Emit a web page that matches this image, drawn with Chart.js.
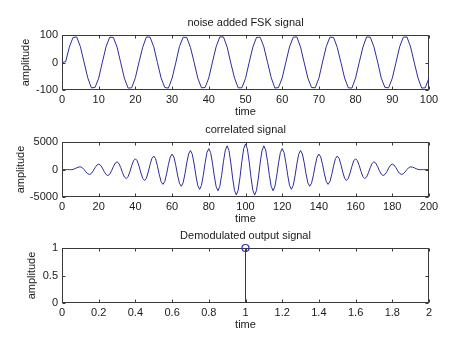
<!DOCTYPE html>
<html><head><meta charset="utf-8">
<script src="https://cdn.jsdelivr.net/npm/chart.js@4.4.0/dist/chart.umd.min.js"></script>
<style>
html,body{margin:0;padding:0;background:#fff;width:474px;height:355px;overflow:hidden}
.c{position:absolute;left:0;width:474px;height:120px}
</style></head><body>
<div class="c" style="top:0px"><canvas id="c1" width="474" height="120"></canvas></div>
<div class="c" style="top:107px"><canvas id="c2" width="474" height="120"></canvas></div>
<div class="c" style="top:213px"><canvas id="c3" width="474" height="120"></canvas></div>
<script>
// ---- data ----
const fskSignal = [
  0, 3, 56, 91, 93, 58, 2, -55, -92, -91, -57,
  1, 57, 92, 91, 56, -1, -57, -93, -92, -55,
  2, 56, 93, 92, 57, 0, -56, -91, -93, -57,
  -1, 58, 92, 91, 55, 1, -57, -92, -91, -56,
  2, 57, 93, 93, 56, -2, -56, -92, -92, -58,
  0, 56, 91, 92, 57, 1, -55, -93, -91, -56,
  1, 57, 92, 93, 56, -1, -57, -91, -92, -57,
  2, 58, 92, 91, 55, 0, -56, -92, -93, -56,
  1, 56, 93, 92, 57, 2, -57, -91, -92, -57,
  0, 57, 92, 93, 56, -1, -56, -93, -92, -56
];
const correlated = [
  0, -3, -10, -20, -27,
  -30, 19, 146, 304, 431,
  480, 348, 3, -423, -768,
  -900, -721, -250, 330, 800,
  980, 781, 261, -381, -901,
  -1100, -861, -236, 536, 1161,
  1400, 1109, 346, -596, -1359,
  -1650, -1306, -406, 706, 1606,
  1950, 1573, 585, -635, -1623,
  -2000, -1575, -462, 912, 2025,
  2450, 1958, 671, -921, -2208,
  -2700, -2175, -800, 900, 2275,
  2800, 2241, 779, -1029, -2491,
  -3050, -2429, -804, 1204, 2829,
  3450, 2777, 1014, -1164, -2927,
  -3600, -2893, -1043, 1243, 3093,
  3800, 3069, 1157, -1207, -3119,
  -3850, -3072, -1034, 1484, 3522,
  4300, 3445, 1208, -1558, -3795,
  -4650, -3762, -1437, 1437, 3762,
  4650,
  3762, 1437, -1437, -3762, -4650,
  -3795, -1558, 1208, 3445, 4300,
  3522, 1484, -1034, -3072, -3850,
  -3119, -1207, 1157, 3069, 3800,
  3093, 1243, -1043, -2893, -3600,
  -2927, -1164, 1014, 2777, 3450,
  2829, 1204, -804, -2429, -3050,
  -2491, -1029, 779, 2241, 2800,
  2275, 900, -800, -2175, -2700,
  -2208, -921, 671, 1958, 2450,
  2025, 912, -462, -1575, -2000,
  -1623, -635, 585, 1573, 1950,
  1606, 706, -406, -1306, -1650,
  -1359, -596, 346, 1109, 1400,
  1161, 536, -236, -861, -1100,
  -901, -381, 261, 781, 980,
  800, 330, -250, -721, -900,
  -768, -423, 3, 348, 480,
  431, 304, 146, 19, -30,
  -27, -20, -10, -3, 0
];
const demodTimes = [1];
const demodValues = [1];

const xTicks1 = [0,10,20,30,40,50,60,70,80,90,100];
const xTickLabels1 = ['0','10','20','30','40','50','60','70','80','90','100'];
const yTicks1 = [-100,0,100];
const yTickLabels1 = ['-100','0','100'];
const xTicks2 = [0,20,40,60,80,100,120,140,160,180,200];
const xTickLabels2 = ['0','20','40','60','80','100','120','140','160','180','200'];
const yTicks2 = [-5000,0,5000];
const yTickLabels2 = ['-5000','0','5000'];
const xTicks3 = [0,0.2,0.4,0.6,0.8,1,1.2,1.4,1.6,1.8,2];
const xTickLabels3 = ['0','0.2','0.4','0.6','0.8','1','1.2','1.4','1.6','1.8','2'];
const yTicks3 = [0,0.5,1];
const yTickLabels3 = ['0','0.5','1'];

const titles = ['noise added FSK signal','correlated signal','Demodulated output signal'];
const xTitle = 'time';
const yTitle = 'amplitude';

// ---- styling ----
const FONT = "'Liberation Sans', Arial, Helvetica, sans-serif";
const TXT = '#1a1a1a';
const LINE = '#2c2c9c';
const AXIS = '#3a3a3a';

const boxPlugin = {
  id: 'matlabBox',
  beforeDatasetsDraw(chart) {
    const {ctx, chartArea: a, scales} = chart;
    const L = Math.round(a.left) + 0.5, R = Math.round(a.right) - 0.5;
    const T = Math.round(a.top) + 0.5, B = Math.round(a.bottom) - 0.5;
    ctx.save();
    ctx.strokeStyle = AXIS;
    ctx.lineWidth = 1;
    ctx.strokeRect(L, T, R - L, B - T);
    ctx.beginPath();
    scales.x.ticks.forEach(t => {
      const p = Math.round(scales.x.getPixelForValue(t.value)) + 0.5;
      ctx.moveTo(p, B); ctx.lineTo(p, B - 3);
      ctx.moveTo(p, T); ctx.lineTo(p, T + 3);
    });
    scales.y.ticks.forEach(t => {
      const p = Math.round(scales.y.getPixelForValue(t.value)) + 0.5;
      ctx.moveTo(L, p); ctx.lineTo(L + 3, p);
      ctx.moveTo(R, p); ctx.lineTo(R - 3, p);
    });
    ctx.stroke();
    ctx.restore();
  }
};

function makeOptions(o) {
  const f = {family: FONT, size: 11, weight: 'normal'};
  return {
    responsive: false,
    animation: false,
    events: [],
    layout: {padding: {left: 0, right: 45, top: 0, bottom: 0}},
    plugins: {
      legend: {display: false},
      tooltip: {enabled: false},
      title: {display: true, fullSize: false, text: o.title, font: f, color: TXT, padding: {top: 16.4, bottom: 5.4}}
    },
    scales: {
      x: {
        type: 'linear', min: o.xTicks[0], max: o.xTicks[o.xTicks.length - 1],
        afterBuildTicks: s => { s.ticks = o.xTicks.map(v => ({value: v})); },
        afterFit: s => { s.height = 30; },
        grid: {display: false, drawTicks: false},
        border: {display: false},
        ticks: {padding: 3, maxRotation: 0, minRotation: 0, autoSkip: false, font: f, color: TXT,
                callback: (v, i) => o.xLabels[i]},
        title: {display: true, text: xTitle, font: f, color: TXT, padding: {top: 0, bottom: 1.4}}
      },
      y: {
        type: 'linear', min: o.yTicks[0], max: o.yTicks[o.yTicks.length - 1],
        afterBuildTicks: s => { s.ticks = o.yTicks.map(v => ({value: v})); },
        afterFit: s => { s.width = 62; },
        grid: {display: false, drawTicks: false},
        border: {display: false},
        ticks: {padding: 4, font: f, color: TXT, callback: (v, i) => o.yLabels[i]},
        title: {display: true, text: yTitle, font: f, color: TXT, padding: {top: o.yTitlePad, bottom: 0}}
      }
    }
  };
}

new Chart(document.getElementById('c1'), {
  type: 'line',
  data: {
    labels: fskSignal.map((_, i) => i),
    datasets: [{data: fskSignal, borderColor: LINE, borderWidth: 1, pointRadius: 0, tension: 0, fill: false}]
  },
  options: makeOptions({title: titles[0], xTicks: xTicks1, xLabels: xTickLabels1, yTicks: yTicks1, yLabels: yTickLabels1, yTitlePad: 19.4}),
  plugins: [boxPlugin]
});

new Chart(document.getElementById('c2'), {
  type: 'line',
  data: {
    labels: correlated.map((_, i) => i),
    datasets: [{data: correlated, borderColor: LINE, borderWidth: 1, pointRadius: 0, tension: 0, fill: false}]
  },
  options: makeOptions({title: titles[1], xTicks: xTicks2, xLabels: xTickLabels2, yTicks: yTicks2, yLabels: yTickLabels2, yTitlePad: 14.4}),
  plugins: [boxPlugin]
});

const stemLines = demodTimes.flatMap((t, i) => [{x: t, y: 0}, {x: t, y: demodValues[i]}, {x: t, y: null}]);
const stemHeads = demodTimes.map((t, i) => ({x: t, y: demodValues[i]}));
new Chart(document.getElementById('c3'), {
  type: 'line',
  data: {
    datasets: [
      {data: stemLines, borderColor: LINE, borderWidth: 1, pointRadius: 0, spanGaps: false, fill: false},
      {data: stemHeads, showLine: false, pointRadius: 3.5, pointStyle: 'circle',
       pointBackgroundColor: 'rgba(0,0,0,0)', pointBorderColor: LINE, pointBorderWidth: 1.2, clip: false}
    ]
  },
  options: makeOptions({title: titles[2], xTicks: xTicks3, xLabels: xTickLabels3, yTicks: yTicks3, yLabels: yTickLabels3, yTitlePad: 25.4}),
  plugins: [boxPlugin]
});
</script>
</body></html>
